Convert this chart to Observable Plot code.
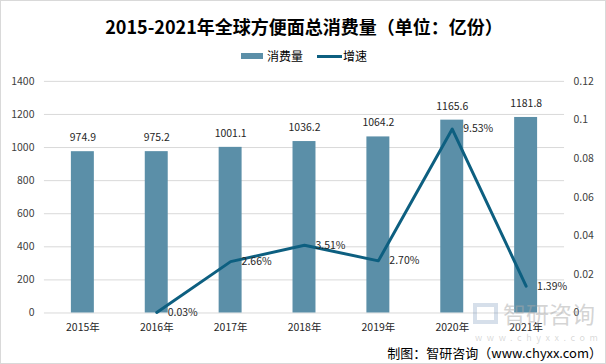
<!DOCTYPE html>
<html>
<head>
<meta charset="utf-8">
<script src="https://cdn.jsdelivr.net/npm/d3@7"></script>
<script src="https://cdn.jsdelivr.net/npm/@observablehq/plot@0.6"></script>
<style>
  html, body { margin: 0; padding: 0; background: #fff; }
  #wrap { position: relative; width: 606px; height: 364px; box-sizing: border-box; border: 1px solid #d9d9d9; overflow: hidden; font-family: "Noto Sans CJK SC", "Noto Sans", sans-serif; }
  #chart { position: absolute; left: -1px; top: -1px; }
  #title { position: absolute; left: 0; top: 13px; width: 606px; text-align: center; font-size: 18px; font-weight: bold; color: #000; line-height: 24px; white-space: nowrap; }
  #legend { position: absolute; left: 0; top: 47px; width: 606px; display: flex; justify-content: center; align-items: center; font-size: 12px; color: #000; line-height: 16px; white-space: nowrap; }
  .sw-bar { display: inline-block; width: 22px; height: 6px; background: #5b8fa8; margin-right: 4px; }
  .sw-line { display: inline-block; width: 25px; height: 3px; background: #0d5f80; margin-left: 14px; margin-right: 1px; }
  #footer { position: absolute; right: 3px; top: 343px; font-size: 13px; color: #000; line-height: 18px; white-space: nowrap; }
  #wm { position: absolute; left: 502px; top: 298px; font-size: 23px; color: rgba(170,170,170,0.5); line-height: 28px; white-space: nowrap; }
  #wm2 { position: absolute; left: 474px; top: 331px; font-size: 9px; color: rgba(170,170,170,0.45); letter-spacing: 4.6px; line-height: 11px; white-space: nowrap; }
  #logo { position: absolute; left: 472px; top: 302px; width: 25px; height: 21px; border: 4px solid rgba(120,150,185,0.3); box-sizing: border-box; }
</style>
</head>
<body>
<div id="wrap">
  <div id="chart"></div>
  <div id="title">2015-2021年全球方便面总消费量（单位：亿份）</div>
  <div id="legend"><span class="sw-bar"></span>消费量<span class="sw-line"></span>增速</div>
  <div id="logo"></div>
  <div id="wm">智研咨询</div>
  <div id="wm2">www.chyxx.com</div>
  <div id="footer">制图：智研咨询（www.chyxx.com）</div>
</div>
<script>
const years = ["2015", "2016", "2017", "2018", "2019", "2020", "2021"];
const consumption = [974.9, 975.2, 1001.1, 1036.2, 1064.2, 1165.6, 1181.8];
const growth = [null, 0.0003, 0.0266, 0.0351, 0.0270, 0.0953, 0.0139];
const growthLabels = [null, "0.03%", "2.66%", "3.51%", "2.70%", "9.53%", "1.39%"];
const leftTicks = [0, 200, 400, 600, 800, 1000, 1200, 1400];
const rightTicks = [0, 0.02, 0.04, 0.06, 0.08, 0.1, 0.12];
const rightTickLabels = ["0", "0.02", "0.04", "0.06", "0.08", "0.1", "0.12"];

const leftMax = 1400;
const rightMax = 0.12;
const toLeft = g => g / rightMax * leftMax;

const bars = years.map((y, i) => ({year: y, value: consumption[i]}));
const lineData = years.map((y, i) => ({year: y, g: growth[i], label: growthLabels[i]})).filter(d => d.g != null);
const rightAxisData = rightTicks.map((t, i) => ({pos: toLeft(t), label: rightTickLabels[i]}));

const font = "Noto Sans CJK SC, Noto Sans, sans-serif";

const chart = Plot.plot({
  width: 606,
  height: 364,
  marginLeft: 44,
  marginRight: 41,
  marginTop: 81,
  marginBottom: 51,
  style: {fontFamily: font, fontSize: "10.5px", color: "#404040", background: "transparent"},
  x: {domain: years, paddingInner: 0.69, paddingOuter: 0.345, label: null},
  y: {domain: [0, leftMax], label: null},
  marks: [
    Plot.ruleY(leftTicks, {stroke: "#d9d9d9", strokeWidth: 1}),
    Plot.barY(bars, {x: "year", y: "value", fill: "#5b8fa8"}),
    Plot.text(bars, {x: "year", y: "value", text: d => d.value.toFixed(1), dy: -14, fill: "#262626", fontSize: 10.5}),
    Plot.lineY(lineData, {x: "year", y: d => toLeft(d.g), stroke: "#0d5f80", strokeWidth: 3}),
    Plot.text(lineData, {x: "year", y: d => toLeft(d.g), text: "label", dx: 11, textAnchor: "start", fill: "#262626", fontSize: 10.5}),
    Plot.axisY({ticks: leftTicks, tickFormat: d => String(d), tickSize: 0, tickPadding: 10, label: null, fill: "#404040"}),
    Plot.axisY({anchor: "right", ticks: rightAxisData.map(d => d.pos), tickFormat: (d, i) => rightAxisData[i].label, tickSize: 0, tickPadding: 9, label: null, fill: "#404040"}),
    Plot.axisX({tickSize: 0, tickPadding: 11, tickFormat: d => d + "年", label: null, fill: "#262626"})
  ]
});
document.getElementById("chart").appendChild(chart);
</script>
</body>
</html>
